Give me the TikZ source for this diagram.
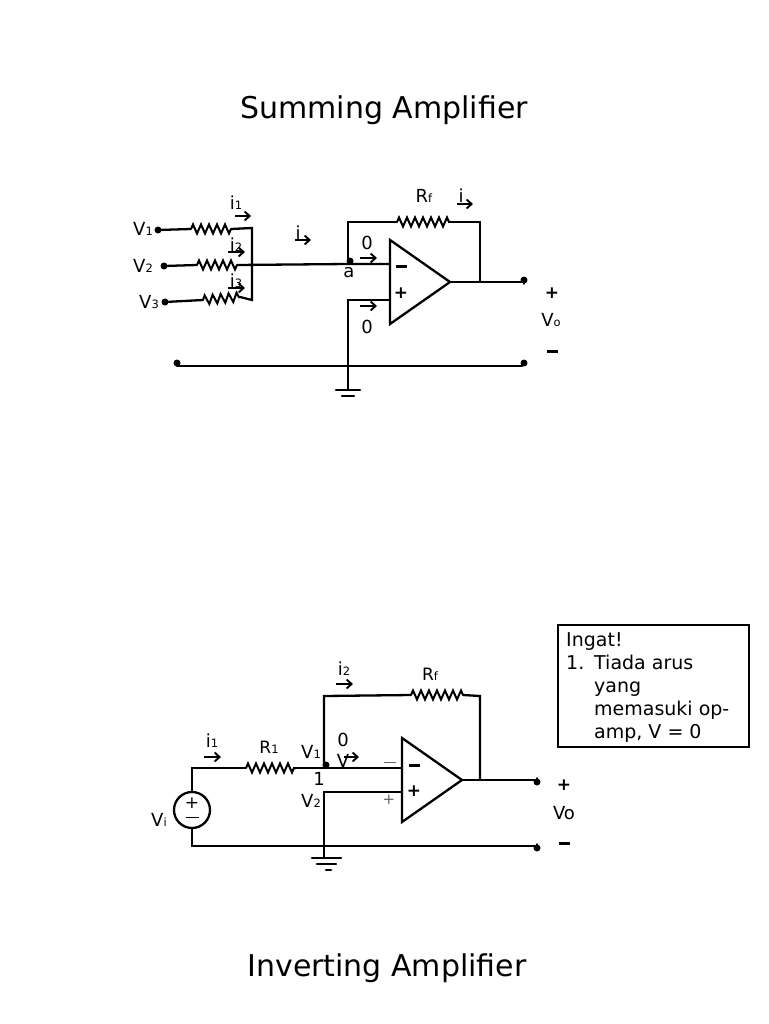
\documentclass[tikz,border=0pt]{standalone}
\usepackage{fontspec}
\setmainfont{DejaVu Sans}
\usetikzlibrary{arrows.meta, decorations.pathmorphing}
\newcommand{\smalltxt}[1]{{\fontsize{11.5}{13}\selectfont #1}}

\begin{document}
\begin{tikzpicture}[
    x=1pt, y=-1pt,
    wire/.style={line width=2.3pt, line cap=round},
    res/.style={line width=2pt, decorate, decoration={zigzag, segment length=8pt, amplitude=4.5pt}},
    amp/.style={line width=2.3pt, line join=miter},
    term/.style={circle, fill=black, inner sep=0pt, minimum size=7pt},
    curr/.style={-{Straight Barb[length=5pt, width=9pt]}, line width=1.9pt},
    lbl/.style={inner sep=0pt, font=\fontsize{18}{20}\selectfont},
    title/.style={inner sep=0pt, font=\fontsize{30}{34}\selectfont},
    sign/.style={inner sep=0pt, font=\fontsize{17}{19}\bfseries\selectfont},
    thin sign/.style={inner sep=0pt, text=black!60, font=\fontsize{15}{17}\selectfont}
]
\useasboundingbox (0,0) rectangle (768,1024);

\node[title] (topTitle) at (384,110) {Summing Amplifier};
\node[title] (botTitle) at (387,968) {Inverting Amplifier};

\node[term] (v1) at (158,230) {};
\node[term] (v2) at (164,266) {};
\node[term] (v3) at (165,302) {};
\node[term] (a) at (350,261) {};
\node[term] (topOut) at (524,280) {};
\node[term] (gndL) at (177,363) {};
\node[term] (gndR) at (524,363) {};
\coordinate (r1a) at (191,229);
\coordinate (r1b) at (231,229);
\coordinate (r2a) at (197,265);
\coordinate (r2b) at (237,265);
\coordinate (r3a) at (203,300);
\coordinate (r3b) at (240,297);
\coordinate (busT) at (252,228);
\coordinate (busB) at (252,300);
\coordinate (na) at (348,264);
\coordinate (inN) at (390,264);
\coordinate (inP) at (390,300);
\coordinate (nb) at (348,300);
\coordinate (fbL) at (348,222);
\coordinate (rfa) at (397,222);
\coordinate (rfb) at (451,222);
\coordinate (fbR) at (480,222);
\coordinate (tip) at (450,282);
\coordinate (outJ) at (480,282);
\coordinate (ampT) at (390,240);
\coordinate (ampB) at (390,324);
\coordinate (railL) at (177,366);
\coordinate (railR) at (522,366);
\coordinate (gnd) at (348,390);

\draw[wire] (v1) -- (r1a);
\draw[res] (r1a) -- (r1b);
\draw[wire] (r1b) -- (busT) -- (busB) -- (r3b);
\draw[res] (r3a) -- (r3b);
\draw[wire] (v3) -- (r3a);
\draw[wire] (v2) -- (r2a);
\draw[res] (r2a) -- (r2b);
\draw[wire] (r2b) -- (na) -- (inN);
\draw[wire] (na) -- (fbL) -- (rfa);
\draw[res] (rfa) -- (rfb);
\draw[wire] (rfb) -- (fbR) -- (outJ);
\draw[amp] (ampT) -- (tip) -- (ampB) -- cycle;
\draw[wire] (tip) -- (topOut |- tip) -- (topOut);
\draw[wire] (inP) -- (nb) -- (gnd);
\draw[wire] (railL) -- (railR);
\draw[wire] (gnd) ++(-12,0) -- ++(24,0);
\draw[wire] (gnd) ++(-6,6) -- ++(12,0);

\draw[curr] (235,216) -- (251,216);
\draw[curr] (228,252) -- (245,252);
\draw[curr] (228,288) -- (245,288);
\draw[curr] (295,240) -- (311,240);
\draw[curr] (360,258) -- (377,258);
\draw[curr] (360,306) -- (377,306);
\draw[curr] (457,204) -- (473,204);

\node[lbl] (lv1) at (143,229) {V\smalltxt{1}};
\node[lbl] (lv2) at (143,266) {V\smalltxt{2}};
\node[lbl] (lv3) at (149,302) {V\smalltxt{3}};
\node[lbl] (li1) at (236,203) {i\smalltxt{1}};
\node[lbl] (li2) at (236,245) {i\smalltxt{2}};
\node[lbl] (li3) at (236,281) {i\smalltxt{3}};
\node[lbl] (li) at (298,233) {i};
\node[lbl] (lit) at (461,196) {i};
\node[lbl] (lrf) at (424,196) {R\smalltxt{f}};
\node[lbl] (l0a) at (367,243) {0};
\node[lbl] (l0b) at (367,327) {0};
\node[lbl] (la) at (349,273) {a};
\node[lbl] (lvo) at (551,320) {V\smalltxt{o}};
\node[sign] (pm) at (401,293) {+};
\node[sign] (mm) at (401,266) {\rule{11pt}{3pt}};
\node[sign] (po) at (552,293) {+};
\node[sign] (mo) at (552,351) {\rule{11pt}{3pt}};

\node[term] (j1) at (326,765) {};
\node[term] (botOut) at (537,782) {};
\node[term] (botRail) at (537,848) {};
\node[draw, circle, line width=2.3pt, minimum size=36pt, inner sep=0pt] (src) at (192,810) {};
\coordinate (c1) at (192,768);
\coordinate (sa) at (246,768);
\coordinate (sb) at (296,768);
\coordinate (n1) at (324,768);
\coordinate (in1) at (402,768);
\coordinate (in2) at (402,792);
\coordinate (n2) at (324,792);
\coordinate (f1) at (324,696);
\coordinate (fa) at (411,695);
\coordinate (fb) at (463,695);
\coordinate (f2) at (480,696);
\coordinate (tip2) at (462,780);
\coordinate (out2) at (480,780);
\coordinate (ampT2) at (402,738);
\coordinate (ampB2) at (402,822);
\coordinate (c2) at (192,846);
\coordinate (gnd2) at (324,858);

\draw[wire] (src) -- (c1) -- (sa);
\draw[res] (sa) -- (sb);
\draw[wire] (sb) -- (n1) -- (in1);
\draw[wire] (n1) -- (f1) -- (fa);
\draw[res] (fa) -- (fb);
\draw[wire] (fb) -- (f2) -- (out2);
\draw[amp] (ampT2) -- (tip2) -- (ampB2) -- cycle;
\draw[wire] (tip2) -- (botOut |- tip2) -- (botOut);
\draw[wire] (in2) -- (n2) -- (gnd2);
\draw[wire] (src) -- (c2) -- (botRail |- c2) -- (botRail);
\draw[wire] (gnd2) ++(-12,0) -- ++(29,0);
\draw[wire] (gnd2) ++(-7,6) -- ++(19,0);
\draw[wire] (gnd2) ++(2,12) -- ++(5,0);

\draw[curr] (204,757) -- (221,757);
\draw[curr] (336,684) -- (353,684);
\draw[curr] (344,757) -- (359,757);

\node[lbl] (lvi) at (159,820) {V\smalltxt{i}};
\node[lbl] (lii) at (212,741) {i\smalltxt{1}};
\node[lbl, font=\fontsize{17}{19}\selectfont] (lr1) at (269,747) {R\smalltxt{1}};
\node[lbl] (li22) at (344,669) {i\smalltxt{2}};
\node[lbl, font=\fontsize{17}{19}\selectfont] (lrf2) at (430,674) {R\smalltxt{f}};
\node[lbl] (lv12) at (311,752) {V\smalltxt{1}};
\node[lbl] (lv22) at (311,801) {V\smalltxt{2}};
\node[lbl] (l1) at (319,779) {1};
\node[lbl] (l02) at (343,740) {0};
\node[lbl] (lv) at (343,761) {V};
\node[lbl] (lvo2) at (564,813) {Vo};
\node[sign] (pm2) at (414,791) {+};
\node[sign] (mm2) at (414,765) {\rule{11pt}{3pt}};
\node[sign] (po2) at (564,785) {+};
\node[sign] (mo2) at (564,843) {\rule{11pt}{3pt}};
\node[thin sign] (mg) at (390,762) {\rule{12pt}{1pt}};
\node[thin sign] (pg) at (389,800) {+};
\node[inner sep=0pt, font=\fontsize{17}{19}\selectfont] (ps) at (192,803) {+};
\node[inner sep=0pt] (ms) at (192,817) {\rule{13pt}{1pt}};

\node[draw, line width=2.3pt, anchor=north west, minimum width=191pt, minimum height=122pt, inner sep=0pt] (noteBox) at (557,623.5) {};
\node[anchor=north west, inner sep=0pt, align=left, font=\fontsize{19}{23}\selectfont] (note) at (566,632)
    {Ingat!\\\makebox[28pt][l]{1.}Tiada arus\\\hspace*{28pt}yang\\\hspace*{28pt}memasuki op-\\\hspace*{28pt}amp, V = 0};
\end{tikzpicture}
\end{document}
